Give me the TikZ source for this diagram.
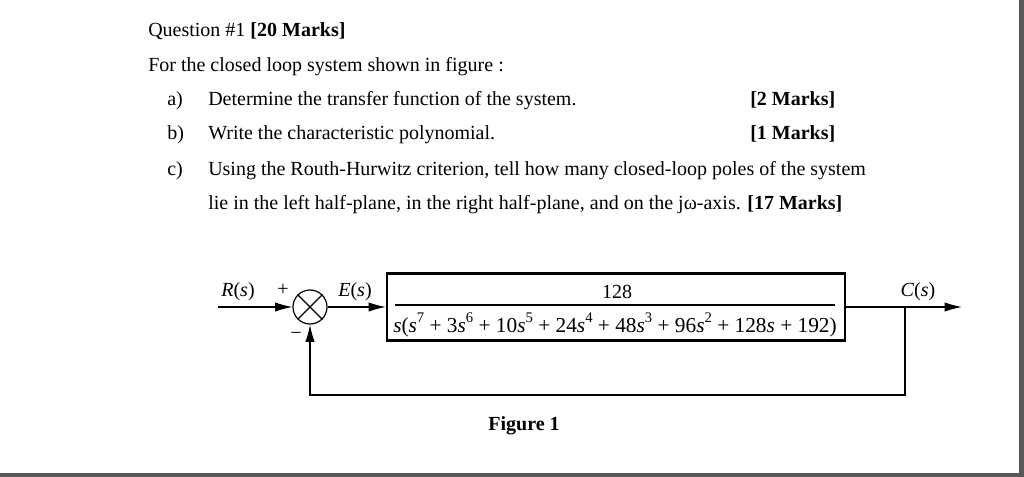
\documentclass[tikz,border=0pt]{standalone}
\usepackage{fontspec}
\setmainfont{Liberation Serif}
\usetikzlibrary{arrows.meta}
\newcommand{\vs}{\textit{s}}
\newcommand{\pw}[1]{\raisebox{0.45em}{\fontsize{11}{12}\selectfont #1}}
\begin{document}
\begin{tikzpicture}[x=0.75pt,y=-0.75pt,
  txt/.style={anchor=base west,inner sep=0,font=\fontsize{15}{17}\selectfont},
  dtxt/.style={inner sep=0,font=\fontsize{15}{17}\selectfont},
  wire/.style={line width=0.9pt},
  arr/.style={wire,-{Latex[length=13pt,width=7pt]}}]
\useasboundingbox (0,0) rectangle (1024,477);
\fill[white] (0,0) rectangle (1024,477);
\fill[gray!70!black] (1019,0) rectangle (1024,477);
\fill[gray!70!black] (0,473) rectangle (1024,477);
\node[txt] (q) at (148,37) {Question \#1 \textbf{[20 Marks]}};
\node[txt] (f) at (148,72) {For the closed loop system shown in figure :};
\node[txt] (a) at (167,106) {a)};
\node[txt] (at) at (208,106) {Determine the transfer function of the system.};
\node[txt] (am) at (750,106) {\textbf{[2 Marks]}};
\node[txt] (b) at (167,140) {b)};
\node[txt] (bt) at (208,140) {Write the characteristic polynomial.};
\node[txt] (bm) at (750,140) {\textbf{[1 Marks]}};
\node[txt] (c) at (167,176) {c)};
\node[txt] (ct) at (208,176) {Using the Routh-Hurwitz criterion, tell how many closed-loop poles of the system};
\node[txt] (ct2) at (208,210) {lie in the left half-plane, in the right half-plane, and on the jω-axis. \textbf{[17 Marks]}};
% diagram
\coordinate (rin) at (218,307);
\node[draw,wire,circle,minimum size=34*0.75pt,inner sep=0] (sum) at (310,307) {};
\draw[wire] (sum.north west) -- (sum.south east) (sum.north east) -- (sum.south west);
\node[draw,line width=1.6pt,minimum width=458*0.75pt,minimum height=67*0.75pt,inner sep=0] (G) at (616,307) {};
\node[dtxt] (num) at (617,292) {128};
\draw[wire] (395,305) -- (835,305);
\node[dtxt,font=\fontsize{16}{18}\selectfont] (den) at (615,325) {\vs(\vs\pw{7} + 3\vs\pw{6} + 10\vs\pw{5} + 24\vs\pw{4} + 48\vs\pw{3} + 96\vs\pw{2} + 128\vs{} + 192)};
\coordinate (br) at (905,307);
\coordinate (out) at (962,307);
\coordinate (fb1) at (905,395);
\coordinate (fb2) at (310,395);
\draw[arr] (rin) -- (sum.west);
\draw[arr] (sum.east) -- (G.west);
\draw[wire] (G.east) -- (br);
\draw[arr] (br) -- (out);
\draw[arr] (br) -- (fb1) -- (fb2) -- (sum.south);
\node[dtxt] (R) at (238,292) {\textit{R}(\vs)};
\node[dtxt] (pl) at (283,290) {+};
\node[dtxt] (mi) at (296,336) {−};
\node[dtxt] (E) at (355,292) {\textit{E}(\vs)};
\node[dtxt] (C) at (918,292) {\textit{C}(\vs)};
\node[dtxt] (fig) at (524,426) {\textbf{Figure 1}};
\end{tikzpicture}
\end{document}
